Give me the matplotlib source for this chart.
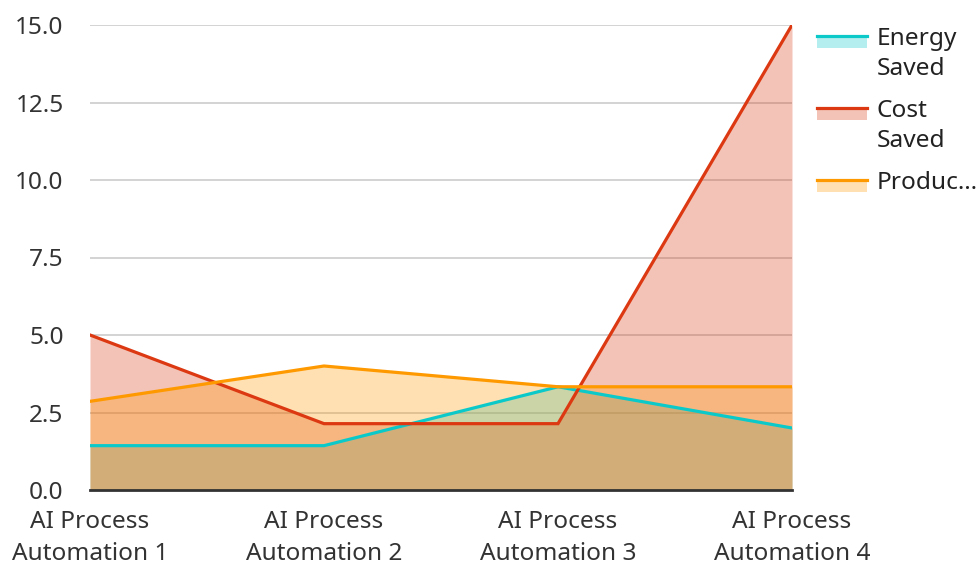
import matplotlib
matplotlib.use("Agg")
import matplotlib.pyplot as plt
from matplotlib.patches import Rectangle
from matplotlib.lines import Line2D

categories = ["AI Process\nAutomation 1", "AI Process\nAutomation 2",
              "AI Process\nAutomation 3", "AI Process\nAutomation 4"]
energy_saved = [1.43, 1.43, 3.33, 2.0]
cost_saved = [5.0, 2.14, 2.14, 15.0]
productivity = [2.86, 4.0, 3.33, 3.33]
series_names = ["Energy\nSaved", "Cost\nSaved", "Produc…"]
colors = ["#0cc9c9", "#dc3912", "#ff9900"]
yticks = [0.0, 2.5, 5.0, 7.5, 10.0, 12.5, 15.0]

plt.rcParams['font.family'] = ['Noto Sans', 'DejaVu Sans']
FS = 17.6
W, H = 979, 565
fig = plt.figure(figsize=(W/100, H/100), dpi=100)
ax = fig.add_axes([90/W, 1-490/H, (792-90)/W, (490-25)/H])

x = list(range(len(categories)))
data = [energy_saved, cost_saved, productivity]
for vals, c in zip(data, colors):
    ax.fill_between(x, 0, vals, color=c, alpha=0.3, linewidth=0, zorder=2)
for vals, c in zip(data, colors):
    ax.plot(x, vals, color=c, linewidth=2.3, zorder=3, solid_joinstyle='miter')

ax.set_xlim(0, 3)
ax.set_ylim(0, 15)
ax.set_xticks(x)
ax.set_xticklabels(categories, fontsize=FS, color="#333333", linespacing=1.42)
ax.set_yticks(yticks)
ax.set_yticklabels([f"{v:.1f}" for v in yticks], fontsize=FS, color="#333333")
ax.tick_params(axis='both', length=0)
ax.tick_params(axis='y', pad=19)
ax.tick_params(axis='x', pad=14.5)
ax.grid(axis='y', color="#cccccc", linewidth=1.2, zorder=1)
ax.set_axisbelow(True)
for s in ["top", "right", "left"]:
    ax.spines[s].set_visible(False)
ax.spines["bottom"].set_color("#333333")
ax.spines["bottom"].set_linewidth(2)
ax.spines["bottom"].set_zorder(4)

# legend (manual, figure pixel coords from top)
line_y = [36, 108, 180]
for name, c, ly in zip(series_names, colors, line_y):
    fig.add_artist(Rectangle((817/W, 1-(ly+12)/H), 50/W, 12/H,
                             transform=fig.transFigure, color=c, alpha=0.3, linewidth=0))
    fig.add_artist(Line2D([817/W, 867/W], [1-ly/H, 1-ly/H],
                          transform=fig.transFigure, color=c, linewidth=2.3))
    fig.text(877/W, 1-(ly-9)/H, name, fontsize=FS, color="#222222",
             va='top', ha='left', linespacing=1.36)

fig.savefig("out.png", dpi=100)
